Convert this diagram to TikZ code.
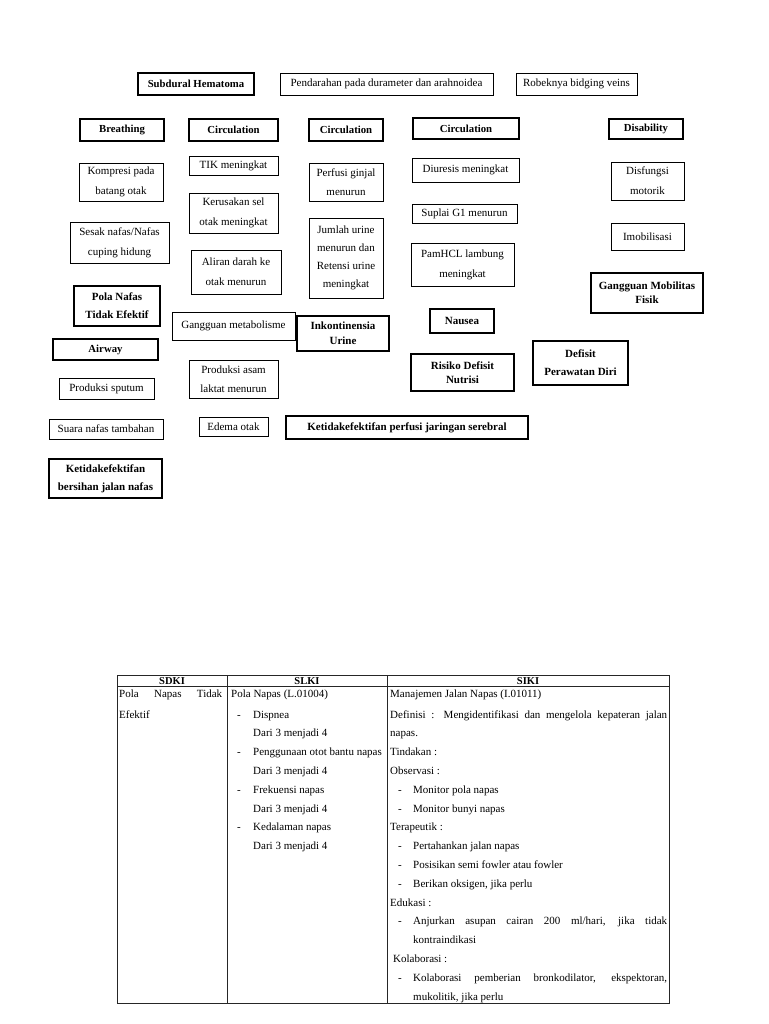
\documentclass[tikz,border=0pt]{standalone}
\usepackage{fontspec}
\setmainfont{Liberation Serif}
\tikzset{
 nbox/.style={draw=black, line width=0.9pt, inner sep=0pt, align=center, font=\fontsize{11}{13}\selectfont},
 hbox/.style={draw=black, line width=1.3pt, inner sep=0pt, align=center, font=\fontsize{10.75}{13}\selectfont\bfseries},
 tbox/.style={draw=black, line width=2pt, inner sep=0pt, align=center, font=\fontsize{11}{13.5}\selectfont\bfseries},
 tt/.style={anchor=base west, inner sep=0pt, font=\fontsize{11}{13}\selectfont},
 th/.style={anchor=base, inner sep=0pt, font=\fontsize{10.5}{13}\selectfont\bfseries},
 grid line/.style={draw=black!85, line width=0.8pt},
}
\newcommand\mybox[7]{\node[#1, minimum width={(#4-#2)*1pt}, minimum height={(#5-#3)*1pt}] (#7) at ({(#2+#4)/2},{(#3+#5)/2}) {#6};}
\begin{document}
\begin{tikzpicture}[x=1pt,y=-1pt]
\fill[white] (0,0) rectangle (768,1024);
\useasboundingbox (0,0) rectangle (768,1024);
% top row
\mybox{hbox}{138}{73}{254}{95}{Subdural Hematoma}{sh}
\mybox{nbox}{280}{73}{493}{95}{Pendarahan pada durameter dan arahnoidea}{pd}
\mybox{nbox}{516}{73}{637}{95}{Robeknya bidging veins}{rb}
% headers
\mybox{hbox}{80}{119}{164}{141}{Breathing}{br}
\mybox{hbox}{189}{119}{278}{141}{Circulation}{ca}
\mybox{hbox}{309}{119}{383}{141}{Circulation}{cb}
\mybox{hbox}{413}{118}{519}{139}{Circulation}{cc}
\mybox{hbox}{609}{119}{683}{139}{Disability}{ds}
% breathing column
\mybox{nbox}{79}{163}{163}{201}{Kompresi pada\\[7pt]batang otak}{kp}
\mybox{nbox}{70}{222}{169}{263}{Sesak nafas/Nafas\\[7pt]cuping hidung}{sn}
\mybox{tbox}{74}{286}{160}{326}{Pola Nafas\\[4.5pt]Tidak Efektif}{pn}
\mybox{hbox}{53}{339}{158}{360}{Airway}{aw}
\mybox{nbox}{59}{378}{154}{399}{Produksi sputum}{ps}
\mybox{nbox}{49}{419}{163}{439}{Suara nafas tambahan}{snt}
\mybox{tbox}{49}{459}{162}{498}{Ketidakefektifan\\[4.5pt]bersihan jalan nafas}{kb}
% circulation 1
\mybox{nbox}{189}{156}{278}{175}{TIK meningkat}{tik}
\mybox{nbox}{189}{193}{278}{233}{Kerusakan sel\\[7pt]otak meningkat}{ks}
\mybox{nbox}{191}{250}{281}{294}{Aliran darah ke\\[7pt]otak menurun}{ad}
\mybox{nbox}{172}{312}{295}{340}{Gangguan metabolisme}{gm}
\mybox{nbox}{189}{360}{278}{398}{Produksi asam\\[6pt]laktat menurun}{pa}
\mybox{nbox}{199}{417}{268}{436}{Edema otak}{eo}
% circulation 2
\mybox{nbox}{309}{163}{383}{201}{Perfusi ginjal\\[6pt]menurun}{pg}
\mybox{nbox}{309}{218}{383}{298}{Jumlah urine\\[5pt]menurun dan\\[5pt]Retensi urine\\[5pt]meningkat}{ju}
\mybox{tbox}{297}{316}{389}{351}{Inkontinensia\\[1.5pt]Urine}{ik}
\mybox{tbox}{286}{416}{528}{439}{Ketidakefektifan perfusi jaringan serebral}{kps}
% circulation 3
\mybox{nbox}{412}{158}{519}{182}{Diuresis meningkat}{dm}
\mybox{nbox}{412}{204}{517}{223}{Suplai G1 menurun}{sg}
\mybox{nbox}{411}{243}{514}{286}{PamHCL lambung\\[7pt]meningkat}{ph}
\mybox{tbox}{430}{309}{494}{333}{Nausea}{na}
\mybox{tbox}{411}{354}{514}{391}{Risiko Defisit\\[0.5pt]Nutrisi}{rd}
\mybox{tbox}{533}{341}{628}{385}{Defisit\\[4.5pt]Perawatan Diri}{dp}
% disability
\mybox{nbox}{611}{162}{684}{200}{Disfungsi\\[7pt]motorik}{df}
\mybox{nbox}{611}{223}{684}{250}{Imobilisasi}{im}
\mybox{tbox}{591}{273}{703}{313}{Gangguan Mobilitas\\[0.5pt]Fisik}{gmf}
% table grid
\coordinate (tl) at (117,675);
\coordinate (tr) at (669,675);
\coordinate (hl) at (117,686);
\coordinate (hr) at (669,686);
\coordinate (bl) at (117,1003);
\coordinate (br2) at (669,1003);
\coordinate (d1t) at (227,675);
\coordinate (d1b) at (227,1003);
\coordinate (d2t) at (387,675);
\coordinate (d2b) at (387,1003);
\draw[grid line] (tl) -- (tr) -- (br2) -- (bl) -- cycle;
\draw[grid line] (hl) -- (hr);
\draw[grid line] (d1t) -- (d1b);
\draw[grid line] (d2t) -- (d2b);
% headers
\node[th] (hsd) at (172,684) {SDKI};
\node[th] (hsl) at (307,684) {SLKI};
\node[th] (hsi) at (528,684) {SIKI};
% SDKI
\node[tt] (a0) at (119,697) {\makebox[103pt][s]{Pola Napas Tidak}};
\node[tt] (a1) at (119,718) {Efektif};
% SLKI
\node[tt] (b0) at (231,697) {Pola Napas (L.01004)};
\node[tt] (bd1) at (237,718) {-};
\node[tt] (b1) at (253,718) {Dispnea};
\node[tt] (b2) at (253,736.8) {Dari 3 menjadi 4};
\node[tt] (bd3) at (237,755.6) {-};
\node[tt] (b3) at (253,755.6) {Penggunaan otot bantu napas};
\node[tt] (b4) at (253,774.4) {Dari 3 menjadi 4};
\node[tt] (bd5) at (237,793.2) {-};
\node[tt] (b5) at (253,793.2) {Frekuensi napas};
\node[tt] (b6) at (253,812) {Dari 3 menjadi 4};
\node[tt] (bd7) at (237,830.8) {-};
\node[tt] (b7) at (253,830.8) {Kedalaman napas};
\node[tt] (b8) at (253,849.6) {Dari 3 menjadi 4};
% SIKI
\node[tt] (c0) at (390,697) {Manajemen Jalan Napas (I.01011)};
\node[tt] (c1) at (390,718) {\makebox[277pt][s]{Definisi : Mengidentifikasi dan mengelola kepateran jalan}};
\node[tt] (c2) at (390,736.8) {napas.};
\node[tt] (c3) at (390,755.6) {Tindakan :};
\node[tt] (c4) at (390,774.4) {Observasi :};
\node[tt] (cd5) at (398,793.2) {-};
\node[tt] (c5) at (413,793.2) {Monitor pola napas};
\node[tt] (cd6) at (398,812) {-};
\node[tt] (c6) at (413,812) {Monitor bunyi napas};
\node[tt] (c7) at (390,830.8) {Terapeutik :};
\node[tt] (cd8) at (398,849.6) {-};
\node[tt] (c8) at (413,849.6) {Pertahankan jalan napas};
\node[tt] (cd9) at (398,868.4) {-};
\node[tt] (c9) at (413,868.4) {Posisikan semi fowler atau fowler};
\node[tt] (cd10) at (398,887.2) {-};
\node[tt] (c10) at (413,887.2) {Berikan oksigen, jika perlu};
\node[tt] (c11) at (390,906) {Edukasi :};
\node[tt] (cd12) at (398,924.8) {-};
\node[tt] (c12) at (413,924.8) {\makebox[254pt][s]{Anjurkan asupan cairan 200 ml/hari, jika tidak}};
\node[tt] (c13) at (413,943.6) {kontraindikasi};
\node[tt] (c14) at (393,962.4) {Kolaborasi :};
\node[tt] (cd15) at (398,981.2) {-};
\node[tt] (c15) at (413,981.2) {\makebox[254pt][s]{Kolaborasi pemberian bronkodilator, ekspektoran,}};
\node[tt] (c16) at (413,1000) {mukolitik, jika perlu};
\end{tikzpicture}
\end{document}
